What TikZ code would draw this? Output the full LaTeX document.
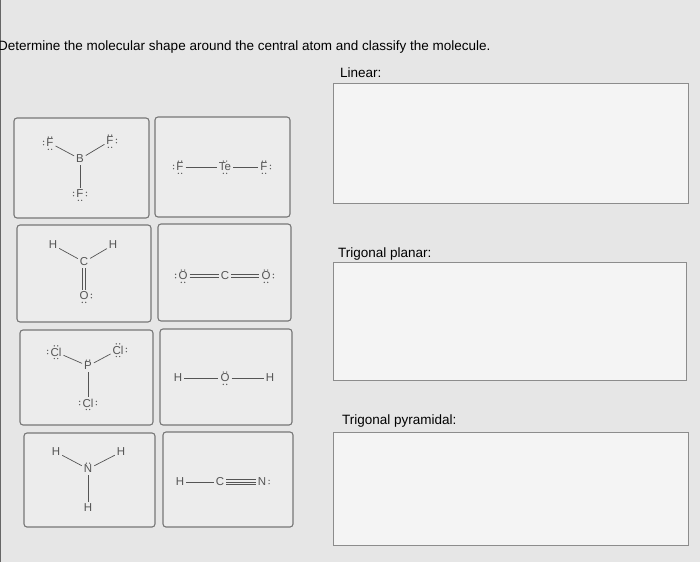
\documentclass[tikz,border=0pt]{standalone}
\usepackage{fontspec}
\setmainfont{Liberation Sans}
\usetikzlibrary{calc}
\definecolor{bg}{HTML}{E6E6E6}
\definecolor{card}{HTML}{ECECEC}
\definecolor{ink}{HTML}{555555}
\tikzset{
  cardbox/.style={draw=ink!80, line width=1.1pt, rounded corners=3pt, fill=card},
  ansbox/.style={draw=black!45, line width=0.6pt, fill=card!60!white},
  atom/.style={inner sep=0.5pt, font=\fontsize{11.5}{12}\selectfont, text=ink},
  bond/.style={draw=ink, line width=0.7pt, shorten <=1.5pt, shorten >=1.5pt},
  lbl/.style={font=\fontsize{13.5}{15}\selectfont, anchor=west, inner sep=0pt}
}
\newcommand\dT[1]{\fill[ink] ($(#1.north)+(-1.7,-1.2)$) circle(0.7) ($(#1.north)+(1.7,-1.2)$) circle(0.7);}
\newcommand\dB[1]{\fill[ink] ($(#1.south)+(-1.7,1.6)$) circle(0.7) ($(#1.south)+(1.7,1.6)$) circle(0.7);}
\newcommand\dL[1]{\fill[ink] ($(#1.west)+(-2.2,-1.7)$) circle(0.7) ($(#1.west)+(-2.2,1.7)$) circle(0.7);}
\newcommand\dR[1]{\fill[ink] ($(#1.east)+(2.2,-1.7)$) circle(0.7) ($(#1.east)+(2.2,1.7)$) circle(0.7);}
\begin{document}
\begin{tikzpicture}[x=1pt,y=-1pt]
\fill[bg] (0,0) rectangle (700,562);
\useasboundingbox (0,0) rectangle (700,562);
\fill[black!60] (0,0) rectangle (1.2,562);
\node[lbl] (title) at (-2,47) {Determine the molecular shape around the central atom and classify the molecule.};
\node[lbl] (lin) at (340,73) {Linear:};
\node[lbl] (tp) at (338,254) {Trigonal planar:};
\node[lbl] (tpy) at (342,421) {Trigonal pyramidal:};
\draw[ansbox] (333,83) rectangle (688,203);
\draw[ansbox] (333,262) rectangle (686,380);
\draw[ansbox] (333,432) rectangle (688,545);
% cards
\draw[cardbox] (14,118) rectangle (149,218);
\draw[cardbox] (155,117) rectangle (290,217);
\draw[cardbox] (17,225) rectangle (151,322);
\draw[cardbox] (158,224) rectangle (291,321);
\draw[cardbox] (20,330) rectangle (153,425);
\draw[cardbox] (160,329) rectangle (292,425);
\draw[cardbox] (24,433) rectangle (155,527);
\draw[cardbox] (163,432) rectangle (293,527);
% BF3
\node[atom] (b) at (80,159) {B};
\node[atom] (f1) at (50,143) {F};
\node[atom] (f2) at (110,141) {F};
\node[atom] (f3) at (80,194) {F};
\draw[bond] (f1) -- (b); \draw[bond] (f2) -- (b); \draw[bond] (b) -- (f3);
\dL{f1}\dT{f1}\dB{f1} \dT{f2}\dR{f2}\dB{f2} \dL{f3}\dR{f3}\dB{f3}
% TeF2
\node[atom] (fa) at (180,167) {F};
\node[atom] (te) at (225,167) {Te};
\node[atom] (fb) at (264,167) {F};
\draw[bond] (fa) -- (te); \draw[bond] (te) -- (fb);
\dL{fa}\dT{fa}\dB{fa} \dT{te}\dB{te} \dT{fb}\dR{fb}\dB{fb}
% H2CO
\node[atom] (c1) at (84,262) {C};
\node[atom] (h1) at (53,245) {H};
\node[atom] (h2) at (113,245) {H};
\node[atom] (o1) at (84,296) {O};
\draw[bond] (h1) -- (c1); \draw[bond] (h2) -- (c1);
\draw[bond] ($(c1.south)+(-1.4,0)$) -- ($(o1.north)+(-1.4,0)$);
\draw[bond] ($(c1.south)+(1.4,0)$) -- ($(o1.north)+(1.4,0)$);
\dR{o1}\dB{o1}
% CO2
\node[atom] (oa) at (183,276) {O};
\node[atom] (c2) at (225,276) {C};
\node[atom] (ob) at (266,276) {O};
\draw[bond] ($(oa.east)+(0,-1.4)$) -- ($(c2.west)+(0,-1.4)$);
\draw[bond] ($(oa.east)+(0,1.4)$) -- ($(c2.west)+(0,1.4)$);
\draw[bond] ($(c2.east)+(0,-1.4)$) -- ($(ob.west)+(0,-1.4)$);
\draw[bond] ($(c2.east)+(0,1.4)$) -- ($(ob.west)+(0,1.4)$);
\dL{oa}\dT{oa}\dB{oa} \dT{ob}\dR{ob}\dB{ob}
% PCl3
\node[atom] (p) at (88,366) {P};
\node[atom] (cl1) at (56,352) {Cl};
\node[atom] (cl2) at (118,350) {Cl};
\node[atom] (cl3) at (88,403) {Cl};
\draw[bond] (cl1) -- (p); \draw[bond] (cl2) -- (p); \draw[bond] (p) -- (cl3);
\dT{p}
\dL{cl1}\dT{cl1}\dB{cl1} \dT{cl2}\dR{cl2}\dB{cl2} \dL{cl3}\dR{cl3}\dB{cl3}
% H2O
\node[atom] (ha) at (178,378) {H};
\node[atom] (o2) at (225,378) {O};
\node[atom] (hb) at (270,378) {H};
\draw[bond] (ha) -- (o2); \draw[bond] (o2) -- (hb);
\dT{o2}\dB{o2}
% NH3
\node[atom] (n) at (88,469) {N};
\node[atom] (h3) at (56,452) {H};
\node[atom] (h4) at (121,452) {H};
\node[atom] (h5) at (88,508) {H};
\draw[bond] (h3) -- (n); \draw[bond] (h4) -- (n); \draw[bond] (n) -- (h5);
\dT{n}
% HCN
\node[atom] (h6) at (180,482) {H};
\node[atom] (c3) at (220,482) {C};
\node[atom] (n2) at (262,482) {N};
\draw[bond] (h6) -- (c3);
\draw[bond] ($(c3.east)+(0,-2.2)$) -- ($(n2.west)+(0,-2.2)$);
\draw[bond] (c3.east) -- (n2.west);
\draw[bond] ($(c3.east)+(0,2.2)$) -- ($(n2.west)+(0,2.2)$);
\dR{n2}
\end{tikzpicture}
\end{document}
